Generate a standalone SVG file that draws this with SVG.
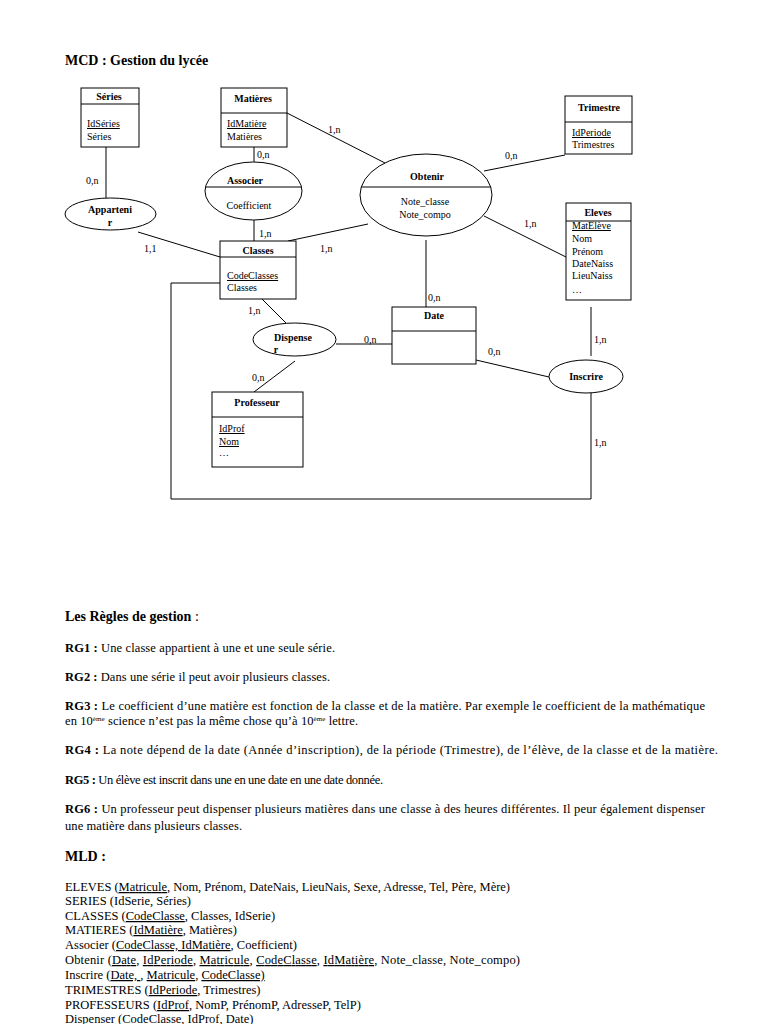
<svg xmlns="http://www.w3.org/2000/svg" width="768" height="1024" viewBox="0 0 768 1024">
<style>
text{font-family:"Liberation Serif","Times New Roman",serif;fill:#000}
.t{font-size:14px;font-weight:bold}
.h{font-size:10px;font-weight:bold;text-anchor:middle}
.f{font-size:10px}
.c{font-size:10px}
.u{text-decoration:underline}
.box{fill:#fff;stroke:#000;stroke-width:1}
.ell{fill:#fff;stroke:#000;stroke-width:1}
.div{stroke:#000;stroke-width:1}
.ln{stroke:#000;stroke-width:1;fill:none}
.rg{font-size:12.5px}
.b{font-weight:bold}
.sup{font-size:7px}
</style>
<rect width="768" height="1024" fill="#fff"/>
<text class="t" x="65" y="65">MCD : Gestion du lycée</text>

<g id="connectors">
<line class="ln" x1="106" y1="147" x2="106" y2="198"/>
<line class="ln" x1="254" y1="147" x2="254" y2="162"/>
<line class="ln" x1="254" y1="220" x2="254" y2="241"/>
<line class="ln" x1="138" y1="232" x2="220" y2="257"/>
<line class="ln" x1="287" y1="113" x2="385" y2="163"/>
<line class="ln" x1="368" y1="224" x2="288" y2="241"/>
<line class="ln" x1="484" y1="171" x2="565" y2="155"/>
<line class="ln" x1="484" y1="216" x2="566" y2="257"/>
<line class="ln" x1="426" y1="240" x2="426" y2="307"/>
<line class="ln" x1="262" y1="299" x2="286" y2="323"/>
<line class="ln" x1="336" y1="344" x2="392" y2="344"/>
<line class="ln" x1="295" y1="361" x2="254" y2="392"/>
<line class="ln" x1="476" y1="360" x2="549" y2="377"/>
<line class="ln" x1="591" y1="307" x2="591" y2="356"/>
<polyline class="ln" points="591,393 591,499 171,499 171,283 220,283"/>
<text class="c" x="86" y="184">0,n</text>
<text class="c" x="257" y="158">0,n</text>
<text class="c" x="259" y="237">1,n</text>
<text class="c" x="144" y="252">1,1</text>
<text class="c" x="320" y="252">1,n</text>
<text class="c" x="328" y="133">1,n</text>
<text class="c" x="505" y="159">0,n</text>
<text class="c" x="524" y="227">1,n</text>
<text class="c" x="428" y="301">0,n</text>
<text class="c" x="248" y="314">1,n</text>
<text class="c" x="364" y="343">0,n</text>
<text class="c" x="252" y="381">0,n</text>
<text class="c" x="488" y="355">0,n</text>
<text class="c" x="594" y="343">1,n</text>
<text class="c" x="594" y="446">1,n</text>
</g>

<g id="series">
<rect class="box" x="81" y="88" width="58" height="59"/>
<line class="div" x1="81" y1="104" x2="139" y2="104"/>
<text class="h" x="109" y="100">Séries</text>
<text class="f" x="87" y="127"><tspan class="u">IdSéries</tspan></text>
<text class="f" x="87" y="140">Séries</text>
</g>

<g id="matieres">
<rect class="box" x="221" y="88" width="66" height="59"/>
<line class="div" x1="221" y1="113" x2="287" y2="113"/>
<text class="h" x="253" y="102">Matières</text>
<text class="f" x="227" y="127"><tspan class="u">IdMatière</tspan></text>
<text class="f" x="227" y="140">Matières</text>
</g>

<g id="trimestre">
<rect class="box" x="565" y="96" width="67" height="58"/>
<line class="div" x1="565" y1="122" x2="632" y2="122"/>
<text class="h" x="599" y="111">Trimestre</text>
<text class="f" x="572" y="136"><tspan class="u">IdPeriode</tspan></text>
<text class="f" x="572" y="148">Trimestres</text>
</g>

<g id="eleves">
<rect class="box" x="566" y="203" width="65" height="97"/>
<line class="div" x1="566" y1="221" x2="631" y2="221"/>
<text class="h" x="598" y="216">Eleves</text>
<text class="f" x="572" y="229"><tspan class="u">MatElève</tspan></text>
<text class="f" x="572" y="242">Nom</text>
<text class="f" x="572" y="255">Prénom</text>
<text class="f" x="572" y="267">DateNaiss</text>
<text class="f" x="572" y="279">LieuNaiss</text>
<text class="f" x="572" y="293">…</text>
</g>

<g id="classes">
<rect class="box" x="220" y="241" width="76" height="58"/>
<line class="div" x1="220" y1="257" x2="296" y2="257"/>
<text class="h" x="258" y="254">Classes</text>
<text class="f" x="227" y="279"><tspan class="u">CodeClasses</tspan></text>
<text class="f" x="227" y="291">Classes</text>
</g>

<g id="date">
<rect class="box" x="392" y="307" width="84" height="57"/>
<line class="div" x1="392" y1="331" x2="476" y2="331"/>
<text class="h" x="434" y="319">Date</text>
</g>

<g id="professeur">
<rect class="box" x="212" y="392" width="91" height="75"/>
<line class="div" x1="212" y1="417" x2="303" y2="417"/>
<text class="h" x="257" y="406">Professeur</text>
<text class="f" x="219" y="432"><tspan class="u">IdProf</tspan></text>
<text class="f" x="219" y="445"><tspan class="u">Nom</tspan></text>
<text class="f" x="219" y="456">…</text>
</g>

<g id="appartenir">
<ellipse class="ell" cx="110.5" cy="214" rx="45.5" ry="16"/>
<text class="h" x="110" y="213">Apparteni</text>
<text class="h" x="110" y="226">r</text>
</g>

<g id="associer">
<ellipse class="ell" cx="253.5" cy="191" rx="48.5" ry="29"/>
<line class="div" x1="205.5" y1="187" x2="301.5" y2="187"/>
<text class="h" x="245" y="184">Associer</text>
<text class="f" x="249" y="209" text-anchor="middle">Coefficient</text>
</g>

<g id="obtenir">
<ellipse class="ell" cx="426" cy="195" rx="66" ry="41"/>
<line class="div" x1="361.3" y1="187" x2="490.7" y2="187"/>
<text class="h" x="427" y="180">Obtenir</text>
<text class="f" x="425" y="205" text-anchor="middle">Note_classe</text>
<text class="f" x="425" y="218" text-anchor="middle">Note_compo</text>
</g>

<g id="dispenser">
<ellipse class="ell" cx="294.5" cy="339.5" rx="41.5" ry="16.5"/>
<text class="h" x="293" y="341">Dispense</text>
<text class="h" x="276" y="353">r</text>
</g>

<g id="inscrire">
<ellipse class="ell" cx="586" cy="376.5" rx="37" ry="16.5"/>
<text class="h" x="586" y="380">Inscrire</text>
</g>

<g id="rules">
<text x="65" y="621" font-size="14"><tspan class="b">Les Règles de gestion</tspan> :</text>
<text class="rg" x="65" y="652" textLength="270" lengthAdjust="spacing"><tspan class="b">RG1 :</tspan> Une classe appartient à une et une seule série.</text>
<text class="rg" x="65" y="681" textLength="265" lengthAdjust="spacing"><tspan class="b">RG2 :</tspan> Dans une série il peut avoir plusieurs classes.</text>
<text class="rg" x="65" y="710" textLength="640" lengthAdjust="spacing"><tspan class="b">RG3 :</tspan> Le coefficient d’une matière est fonction de la classe et de la matière. Par exemple le coefficient de la mathématique</text>
<text class="rg" x="65" y="725" textLength="293" lengthAdjust="spacing">en 10<tspan class="sup" dy="-4">ème</tspan><tspan dy="4"> science n’est pas la même chose qu’à 10</tspan><tspan class="sup" dy="-4">ème</tspan><tspan dy="4"> lettre.</tspan></text>
<text class="rg" x="65" y="754" textLength="653" lengthAdjust="spacing"><tspan class="b">RG4 :</tspan> La note dépend de la date (Année d’inscription), de la période (Trimestre), de l’élève, de la classe et de la matière.</text>
<text class="rg" x="65" y="784" textLength="318" lengthAdjust="spacing"><tspan class="b">RG5 :</tspan> Un élève est inscrit dans une en une date en une date donnée.</text>
<text class="rg" x="65" y="813" textLength="640" lengthAdjust="spacing"><tspan class="b">RG6 :</tspan> Un professeur peut dispenser plusieurs matières dans une classe à des heures différentes. Il peur également dispenser</text>
<text class="rg" x="65" y="830" textLength="177" lengthAdjust="spacing">une matière dans plusieurs classes.</text>
</g>

<g id="mld">
<text class="t" x="65" y="861" font-size="15">MLD :</text>
<text class="rg" x="65" y="891" textLength="445" lengthAdjust="spacing">ELEVES (<tspan class="u">Matricule</tspan>, Nom, Prénom, DateNais, LieuNais, Sexe, Adresse, Tel, Père, Mère)</text>
<text class="rg" x="65" y="905">SERIES (IdSerie, Séries)</text>
<text class="rg" x="65" y="920">CLASSES (<tspan class="u">CodeClasse</tspan>, Classes, IdSerie)</text>
<text class="rg" x="65" y="934">MATIERES (<tspan class="u">IdMatière</tspan>, Matières)</text>
<text class="rg" x="65" y="949">Associer (<tspan class="u">CodeClasse, IdMatière</tspan>, Coefficient)</text>
<text class="rg" x="65" y="964" textLength="455" lengthAdjust="spacing">Obtenir (<tspan class="u">Date</tspan>, <tspan class="u">IdPeriode</tspan>, <tspan class="u">Matricule</tspan>, <tspan class="u">CodeClasse</tspan>, <tspan class="u">IdMatière</tspan>, Note_classe, Note_compo)</text>
<text class="rg" x="65" y="979">Inscrire (<tspan class="u">Date, </tspan>, <tspan class="u">Matricule</tspan>, <tspan class="u">CodeClasse)</tspan></text>
<text class="rg" x="65" y="994">TRIMESTRES (<tspan class="u">IdPeriode</tspan>, Trimestres)</text>
<text class="rg" x="65" y="1009">PROFESSEURS (<tspan class="u">IdProf</tspan>, NomP, PrénomP, AdresseP, TelP)</text>
<text class="rg" x="65" y="1023">Dispenser (CodeClasse, IdProf, Date)</text>
</g>
</svg>
